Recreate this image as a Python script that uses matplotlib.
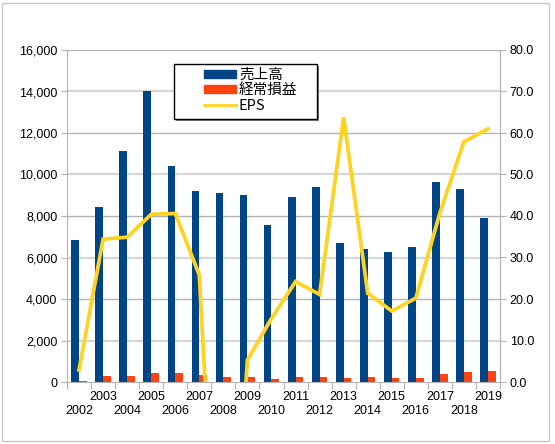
import numpy as np
import matplotlib.pyplot as plt
from matplotlib.patches import Rectangle, Patch
from matplotlib.lines import Line2D

plt.rcParams['font.family'] = ['Liberation Sans', 'Noto Sans CJK JP', 'DejaVu Sans']

# data
years = ['2002', '2003', '2004', '2005', '2006', '2007', '2008', '2009', '2010',
         '2011', '2012', '2013', '2014', '2015', '2016', '2017', '2018', '2019']
sales = [6850, 8450, 11150, 14000, 10400, 9200, 9100, 9000, 7550,
         8900, 9400, 6700, 6400, 6270, 6520, 9620, 9300, 7920]
ordinary = [50, 270, 300, 430, 450, 350, 260, 225, 145,
            260, 240, 210, 240, 190, 210, 385, 500, 530]
eps = [2.9, 34.4, 34.9, 40.4, 40.6, 25.8, -83.0, 5.3, 15.3,
       24.2, 21.1, 63.8, 21.4, 17.1, 20.2, 40.7, 57.9, 61.0]

blue = '#004586'
orange = '#ff420e'
yellow = '#ffd320'
gray = '#b3b3b3'

W, H = 555, 444
fig = plt.figure(figsize=(W/100, H/100), dpi=100)

# outer frame
fig.patches.append(Rectangle((2/W, 3/H), 547/W, 438/H, transform=fig.transFigure,
                             fill=False, edgecolor='#c8c8c8', lw=1))

ax = fig.add_axes([67/W, (H-382)/H, 433/W, 332/H])
x = np.arange(len(years))

# grid lines (alternating shades)
for v in range(2000, 16001, 2000):
    if v % 4000 == 0:
        ax.axhline(v, color=gray, lw=1, zorder=0)
    else:
        ax.axhline(v, color='#d6d6d6', lw=1.6, zorder=0)

bw = 0.32
ax.bar(x - bw/2, sales, width=bw, color=blue, zorder=2)
ax.bar(x + bw/2, ordinary, width=bw, color=orange, zorder=2)

ax.set_xlim(-0.5, len(years) - 0.5)
ax.set_ylim(0, 16000)
ax.set_yticks(range(0, 16001, 2000))
ax.set_yticklabels([f'{v:,}' for v in range(0, 16001, 2000)], fontsize=9)
ax.tick_params(axis='y', length=4, color=gray, pad=3)

ax.set_xticks(np.arange(-0.5, len(years), 1.0))
ax.set_xticklabels([])
ax.tick_params(axis='x', length=5, color=gray)
for i, yr in enumerate(years):
    off = -11 if i % 2 == 1 else -21
    ax.annotate(yr, xy=(i, 0), xycoords=('data', 'axes fraction'),
                xytext=(0, off), textcoords='offset points',
                ha='center', va='center', fontsize=9)

for s in ['top']:
    ax.spines[s].set_visible(False)
for s in ['left', 'right', 'bottom']:
    ax.spines[s].set_color(gray)

ax2 = ax.twinx()
ax2.plot(x, eps, color=yellow, lw=2.7, solid_joinstyle='miter', zorder=3)
ax2.set_ylim(0, 80)
ax2.set_yticks(range(0, 81, 10))
ax2.set_yticklabels([f'{v:.1f}' for v in range(0, 81, 10)], fontsize=9)
ax2.tick_params(axis='y', length=4, color=gray, pad=3)
for s in ['top', 'left', 'bottom']:
    ax2.spines[s].set_visible(False)
ax2.spines['right'].set_color(gray)

# legend box with shadow
fig.patches.append(Rectangle((176/W, (H-121)/H), 143/W, 55/H, transform=fig.transFigure,
                             facecolor='#808080', edgecolor='none', zorder=5))
fig.patches.append(Rectangle((174/W, (H-119)/H), 143/W, 55/H, transform=fig.transFigure,
                             facecolor='white', edgecolor='black', lw=1, zorder=6))
handles = [Patch(color=blue), Patch(color=orange), Line2D([], [], color=yellow, lw=2)]
labels = ['売上高', '経常損益', 'EPS']
leg = fig.legend(handles, labels, loc='upper left', bbox_to_anchor=(201/W, (H-65)/H),
                 frameon=False, handlelength=2.2, handleheight=0.45,
                 handletextpad=0.2, labelspacing=0.1, borderaxespad=0, borderpad=0.2,
                 prop={'family': ['Noto Sans CJK JP', 'DejaVu Sans'], 'size': 10.5})
leg.set_zorder(7)

fig.savefig('out.png', dpi=100)
